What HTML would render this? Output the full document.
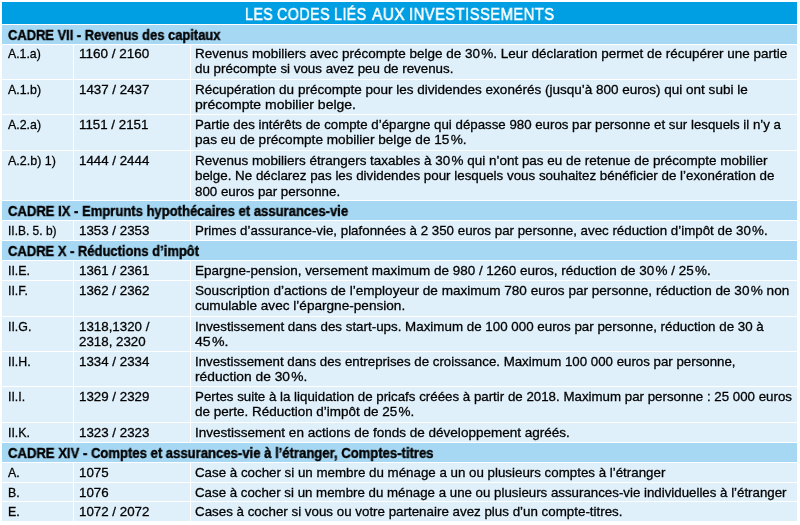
<!DOCTYPE html>
<html><head><meta charset="utf-8"><style>
html,body{margin:0;padding:0;background:#fff;}
body{width:800px;height:525px;position:relative;overflow:hidden;font-family:"Liberation Sans",sans-serif;color:#000;}
.t,.s,.r{position:absolute;left:2px;width:795px;}
.t{background:#009ee2;color:#fff;}
.t b{font-weight:normal;will-change:transform;transform-origin:0 50%;position:absolute;top:2.9px;font-size:16px;line-height:20px;letter-spacing:0.5px;-webkit-text-stroke:0.5px #fff;white-space:nowrap;}
.s{background:#a6d8f4;font-weight:bold;}
.s span{will-change:transform;position:absolute;left:5.5px;top:2.6px;font-size:13.8px;line-height:16px;letter-spacing:0px;white-space:nowrap;-webkit-text-stroke:0.4px #000;}
.r{background:#dff0fb;font-size:13.6px;line-height:15.4px;}
.r>div{position:absolute;top:1.8px;white-space:nowrap;will-change:transform;-webkit-text-stroke:0.3px #000;}
.a{left:6px;letter-spacing:-0.45px;}
.b{left:77px;letter-spacing:0.04px;}
.c{left:193.3px;letter-spacing:0.04px;}
.p{font-style:normal;margin-left:1.3px;}
.r span,.s span{display:inline-block;transform-origin:0 50%;letter-spacing:0}
.r:before,.r:after{content:"";position:absolute;top:0;bottom:0;width:1px;background:#fff;}
.r:before{left:71px;}
.r:after{left:188px;}
</style></head><body>
<div class="t" style="top:2px;height:22px"><b id="t0" style="left:243.00px;transform:scaleX(0.8866)">LES</b><b id="t1" style="left:275.40px;transform:scaleX(0.8932)">CODES</b><b id="t2" style="left:332.40px;transform:scaleX(0.8889)">LIÉS</b><b id="t3" style="left:370.00px;transform:scaleX(0.9610)">AUX</b><b id="t4" style="left:407.00px;transform:scaleX(0.9232)">INVESTISSEMENTS</b></div>
<div class="s" style="top:25px;height:19px"><span class="l" id="k1" style="transform:scaleX(0.9360)">CADRE VII - Revenus des capitaux</span></div>
<div class="r" style="top:45px;height:34px"><div class="a" style="top:0.80px"><span class="l" id="k2" style="transform:scaleX(0.9025)">A.1.a)</span></div><div class="b" style="top:0.80px"><span class="l" id="k3" style="transform:scaleX(0.9931)">1160 / 2160</span></div><div class="c" style="top:0.80px"><span class="l" id="k4" style="transform:scaleX(0.9924)">Revenus mobiliers avec précompte belge de 30<i class="p">%</i>. Leur déclaration permet de récupérer une partie</span><br><span class="l" id="k5" style="transform:scaleX(0.9828)">du précompte si vous avez peu de revenus.</span></div></div>
<div class="r" style="top:80px;height:34px"><div class="a"><span class="l" id="k6" style="transform:scaleX(0.9100)">A.1.b)</span></div><div class="b"><span class="l" id="k7" style="transform:scaleX(0.9800)">1437 / 2437</span></div><div class="c"><span class="l" id="k8" style="transform:scaleX(0.9937)">Récupération du précompte pour les dividendes exonérés (jusqu’à 800 euros) qui ont subi le</span><br><span class="l" id="k9" style="transform:scaleX(1.0292)">précompte mobilier belge.</span></div></div>
<div class="r" style="top:115px;height:35px"><div class="a"><span class="l" id="k10" style="transform:scaleX(0.9100)">A.2.a)</span></div><div class="b"><span class="l" id="k11" style="transform:scaleX(0.9800)">1151 / 2151</span></div><div class="c"><span class="l" id="k12" style="transform:scaleX(0.9766)">Partie des intérêts de compte d’épargne qui dépasse 980 euros par personne et sur lesquels il n’y a</span><br><span class="l" id="k13" style="transform:scaleX(1.0019)">pas eu de précompte mobilier belge de 15<i class="p">%</i>.</span></div></div>
<div class="r" style="top:151px;height:49px"><div class="a"><span class="l" id="k14" style="transform:scaleX(0.9195)">A.2.b) 1)</span></div><div class="b"><span class="l" id="k15" style="transform:scaleX(0.9791)">1444 / 2444</span></div><div class="c"><span class="l" id="k16" style="transform:scaleX(0.9905)">Revenus mobiliers étrangers taxables à 30<i class="p">%</i> qui n’ont pas eu de retenue de précompte mobilier</span><br><span class="l" id="k17" style="transform:scaleX(0.9830)">belge. Ne déclarez pas les dividendes pour lesquels vous souhaitez bénéficier de l’exonération de</span><br><span class="l" id="k18" style="transform:scaleX(0.9796)">800 euros par personne.</span></div></div>
<div class="s" style="top:201px;height:19px"><span class="l" id="k19" style="transform:scaleX(0.9458)">CADRE IX - Emprunts hypothécaires et assurances-vie</span></div>
<div class="r" style="top:221px;height:19px"><div class="a"><span class="l" id="k20" style="transform:scaleX(0.8808)">II.B. 5. b)</span></div><div class="b"><span class="l" id="k21" style="transform:scaleX(0.9800)">1353 / 2353</span></div><div class="c"><span class="l" id="k22" style="transform:scaleX(0.9794)">Primes d’assurance-vie, plafonnées à 2 350 euros par personne, avec réduction d’impôt de 30<i class="p">%</i>.</span></div></div>
<div class="s" style="top:241px;height:19px"><span class="l" id="k23" style="transform:scaleX(0.9407)">CADRE X - Réductions d’impôt</span></div>
<div class="r" style="top:261px;height:19px"><div class="a"><span class="l" id="k24" style="transform:scaleX(0.9100)">II.E.</span></div><div class="b"><span class="l" id="k25" style="transform:scaleX(0.9800)">1361 / 2361</span></div><div class="c"><span class="l" id="k26" style="transform:scaleX(0.9913)">Epargne-pension, versement maximum de 980 / 1260 euros, réduction de 30<i class="p">%</i> / 25<i class="p">%</i>.</span></div></div>
<div class="r" style="top:281px;height:35px"><div class="a"><span class="l" id="k27" style="transform:scaleX(0.9100)">II.F.</span></div><div class="b"><span class="l" id="k28" style="transform:scaleX(0.9800)">1362 / 2362</span></div><div class="c"><span class="l" id="k29" style="transform:scaleX(0.9983)">Souscription d’actions de l’employeur de maximum 780 euros par personne, réduction de 30<i class="p">%</i> non</span><br><span class="l" id="k30" style="transform:scaleX(1.0005)">cumulable avec l’épargne-pension.</span></div></div>
<div class="r" style="top:317px;height:34px"><div class="a"><span class="l" id="k31" style="transform:scaleX(0.9100)">II.G.</span></div><div class="b"><span class="l" id="k32" style="transform:scaleX(0.9800)">1318,1320 /</span><br><span class="l" id="k33" style="transform:scaleX(0.9800)">2318, 2320</span></div><div class="c"><span class="l" id="k34" style="transform:scaleX(0.9827)">Investissement dans des start-ups. Maximum de 100 000 euros par personne, réduction de 30 à</span><br><span class="l" id="k35" style="transform:scaleX(1.0376)">45<i class="p">%</i>.</span></div></div>
<div class="r" style="top:352px;height:34px"><div class="a"><span class="l" id="k36" style="transform:scaleX(0.9100)">II.H.</span></div><div class="b"><span class="l" id="k37" style="transform:scaleX(0.9800)">1334 / 2334</span></div><div class="c"><span class="l" id="k38" style="transform:scaleX(0.9773)">Investissement dans des entreprises de croissance. Maximum 100 000 euros par personne,</span><br><span class="l" id="k39" style="transform:scaleX(1.0139)">réduction de 30<i class="p">%</i>.</span></div></div>
<div class="r" style="top:387px;height:35px"><div class="a"><span class="l" id="k40" style="transform:scaleX(0.9100)">II.I.</span></div><div class="b"><span class="l" id="k41" style="transform:scaleX(0.9800)">1329 / 2329</span></div><div class="c"><span class="l" id="k42" style="transform:scaleX(0.9790)">Pertes suite à la liquidation de pricafs créées à partir de 2018. Maximum par personne : 25 000 euros</span><br><span class="l" id="k43" style="transform:scaleX(0.9914)">de perte. Réduction d’impôt de 25<i class="p">%</i>.</span></div></div>
<div class="r" style="top:423px;height:19px"><div class="a"><span class="l" id="k44" style="transform:scaleX(0.9100)">II.K.</span></div><div class="b"><span class="l" id="k45" style="transform:scaleX(0.9800)">1323 / 2323</span></div><div class="c"><span class="l" id="k46" style="transform:scaleX(0.9939)">Investissement en actions de fonds de développement agréés.</span></div></div>
<div class="s" style="top:443px;height:19px"><span class="l" id="k47" style="transform:scaleX(0.9488)">CADRE XIV - Comptes et assurances-vie à l’étranger, Comptes-titres</span></div>
<div class="r" style="top:463px;height:19px"><div class="a"><span class="l" id="k48" style="transform:scaleX(0.9100)">A.</span></div><div class="b"><span class="l" id="k49" style="transform:scaleX(0.9800)">1075</span></div><div class="c"><span class="l" id="k50" style="transform:scaleX(0.9802)">Case à cocher si un membre du ménage a un ou plusieurs comptes à l’étranger</span></div></div>
<div class="r" style="top:483px;height:18px"><div class="a"><span class="l" id="k51" style="transform:scaleX(0.9100)">B.</span></div><div class="b"><span class="l" id="k52" style="transform:scaleX(0.9800)">1076</span></div><div class="c"><span class="l" id="k53" style="transform:scaleX(0.9773)">Case à cocher si un membre du ménage a une ou plusieurs assurances-vie individuelles à l’étranger</span></div></div>
<div class="r" style="top:502px;height:19px"><div class="a"><span class="l" id="k54" style="transform:scaleX(0.9100)">E.</span></div><div class="b"><span class="l" id="k55" style="transform:scaleX(0.9800)">1072 / 2072</span></div><div class="c"><span class="l" id="k56" style="transform:scaleX(0.9822)">Cases à cocher si vous ou votre partenaire avez plus d’un compte-titres.</span></div></div>
</body></html>
